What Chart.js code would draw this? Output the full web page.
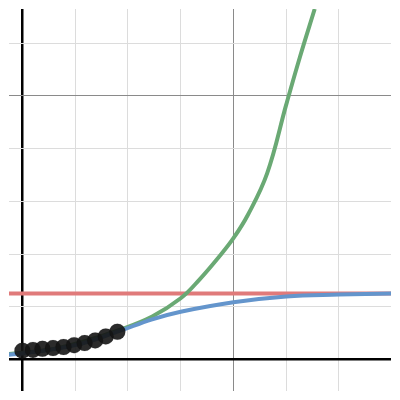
<!DOCTYPE html>
<html><head><meta charset="utf-8">
<script src="https://cdn.jsdelivr.net/npm/chart.js@4"></script>
<style>html,body{margin:0;padding:0;background:#fff}</style>
</head><body><canvas id="c" width="400" height="400" style="width:400px;height:400px"></canvas>
<script>
// Values
const dotX = [0, 1, 1.9, 2.9, 3.9, 4.9, 5.9, 6.9, 7.9, 9];
const dotY = [0.33, 0.36, 0.4, 0.43, 0.47, 0.54, 0.62, 0.72, 0.87, 1.05];
const greenX = [-1.3, 3, 6, 9, 12.3, 15, 16.8, 18.6, 20, 21.4, 23.2, 25, 26.3, 27.7];
const greenY = [0.2, 0.4, 0.7, 1.09, 1.63, 2.32, 3.04, 3.88, 4.6, 5.51, 7.07, 9.67, 11.48, 13.3];
const blueX = [-1.3, 0, 5, 9, 12.3, 15, 20, 25, 30, 35];
const blueY = [0.18, 0.22, 0.54, 1.05, 1.52, 1.81, 2.17, 2.39, 2.46, 2.5];
const limitY = 2.5;

const pts = (xs, ys) => xs.map((x, i) => ({x: x, y: ys[i]}));

function gridTicks(step) {
  return function(scale) {
    const t = [];
    for (let v = Math.ceil(scale.min / step) * step; v <= scale.max; v += step) t.push({value: v});
    scale.ticks = t;
  };
}
function gridColor(major) {
  return ctx => ctx.tick.value === 0 ? '#000' : (Math.round(ctx.tick.value) % major === 0 ? '#8a8a8a' : '#dcdcdc');
}
function gridWidth(ctx) { return ctx.tick.value === 0 ? 2.5 : 1; }

new Chart(document.getElementById('c'), {
  type: 'scatter',
  data: {
    datasets: [
      {data: pts(dotX, dotY), backgroundColor: 'rgba(20,20,20,0.9)', pointRadius: 8, order: 0},
      {type: 'line', data: pts(blueX, blueY), borderColor: '#6495cc', borderWidth: 4, pointRadius: 0, tension: 0.4, order: 1},
      {type: 'line', data: pts(greenX, greenY), borderColor: '#6aa974', borderWidth: 4, pointRadius: 0, tension: 0.4, order: 2},
      {type: 'line', data: pts([-1.3, 35], [limitY, limitY]), borderColor: '#e07a7a', borderWidth: 4, pointRadius: 0, order: 3}
    ]
  },
  options: {
    responsive: false, animation: false,
    layout: {padding: 0},
    plugins: {legend: {display: false}, tooltip: {enabled: false}},
    scales: {
      x: {type: 'linear', min: -1.27, max: 34.93, afterBuildTicks: gridTicks(5),
          ticks: {display: false}, border: {display: false},
          grid: {color: gridColor(20), lineWidth: gridWidth, drawTicks: false}},
      y: {type: 'linear', min: -1.2, max: 13.3, afterBuildTicks: gridTicks(2),
          ticks: {display: false}, border: {display: false},
          grid: {color: gridColor(10), lineWidth: gridWidth, drawTicks: false}}
    }
  }
});
</script>
</body></html>
